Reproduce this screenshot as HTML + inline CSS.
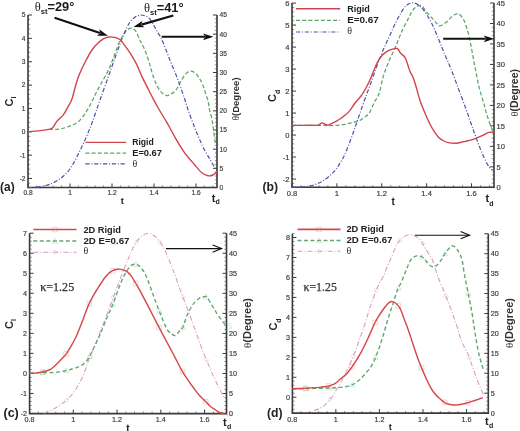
<!DOCTYPE html>
<html><head><meta charset="utf-8"><title>Figure</title>
<style>
html,body{margin:0;padding:0;background:#fff;}
body{width:520px;height:431px;overflow:hidden;}
svg{display:block;font-family:"Liberation Sans",Arial,sans-serif;}
.sf{font-family:"Liberation Serif","Times New Roman",serif;}
</style></head><body>
<svg width="520" height="431" viewBox="0 0 520 431">
<rect width="520" height="431" fill="#fff"/>
<path d="M28,178.52 h4 M28,155.16 h4 M28,131.8 h4 M28,108.44 h4 M28,85.08 h4 M28,61.72 h4 M28,38.36 h4 M28,15 h4 M217,187.5 h-4 M217,168.33 h-4 M217,149.17 h-4 M217,130 h-4 M217,110.83 h-4 M217,91.67 h-4 M217,72.5 h-4 M217,53.33 h-4 M217,34.17 h-4 M217,15 h-4 M28,187.5 v-4 M70,187.5 v-4 M112,187.5 v-4 M154,187.5 v-4 M196,187.5 v-4" stroke="#3a3a3a" stroke-width="1" fill="none"/>
<path d="M28,183.19 h2.2 M28,173.85 h2.2 M28,169.18 h2.2 M28,164.5 h2.2 M28,159.83 h2.2 M28,150.49 h2.2 M28,145.82 h2.2 M28,141.14 h2.2 M28,136.47 h2.2 M28,127.13 h2.2 M28,122.46 h2.2 M28,117.78 h2.2 M28,113.11 h2.2 M28,103.77 h2.2 M28,99.1 h2.2 M28,94.42 h2.2 M28,89.75 h2.2 M28,80.41 h2.2 M28,75.74 h2.2 M28,71.06 h2.2 M28,66.39 h2.2 M28,57.05 h2.2 M28,52.38 h2.2 M28,47.7 h2.2 M28,43.03 h2.2 M28,33.69 h2.2 M28,29.02 h2.2 M28,24.34 h2.2 M28,19.67 h2.2 M217,183.67 h-2.2 M217,179.83 h-2.2 M217,176 h-2.2 M217,172.17 h-2.2 M217,164.5 h-2.2 M217,160.67 h-2.2 M217,156.83 h-2.2 M217,153 h-2.2 M217,145.33 h-2.2 M217,141.5 h-2.2 M217,137.67 h-2.2 M217,133.83 h-2.2 M217,126.17 h-2.2 M217,122.33 h-2.2 M217,118.5 h-2.2 M217,114.67 h-2.2 M217,107 h-2.2 M217,103.17 h-2.2 M217,99.33 h-2.2 M217,95.5 h-2.2 M217,87.83 h-2.2 M217,84 h-2.2 M217,80.17 h-2.2 M217,76.33 h-2.2 M217,68.67 h-2.2 M217,64.83 h-2.2 M217,61 h-2.2 M217,57.17 h-2.2 M217,49.5 h-2.2 M217,45.67 h-2.2 M217,41.83 h-2.2 M217,38 h-2.2 M217,30.33 h-2.2 M217,26.5 h-2.2 M217,22.67 h-2.2 M217,18.83 h-2.2 M36.4,187.5 v-2.2 M44.8,187.5 v-2.2 M53.2,187.5 v-2.2 M61.6,187.5 v-2.2 M78.4,187.5 v-2.2 M86.8,187.5 v-2.2 M95.2,187.5 v-2.2 M103.6,187.5 v-2.2 M120.4,187.5 v-2.2 M128.8,187.5 v-2.2 M137.2,187.5 v-2.2 M145.6,187.5 v-2.2 M162.4,187.5 v-2.2 M170.8,187.5 v-2.2 M179.2,187.5 v-2.2 M187.6,187.5 v-2.2 M204.4,187.5 v-2.2 M212.8,187.5 v-2.2" stroke="#8a8a8a" stroke-width="0.9" fill="none"/>
<path d="M28,15 V187.5 H217 V15" stroke="#3a3a3a" stroke-width="1.6" fill="none" stroke-linejoin="miter"/>
<g font-size="6.6" fill="#3d3d3d" stroke="#3d3d3d" stroke-width="0.18">
<text x="25.5" y="180.9" text-anchor="end">-2</text>
<text x="25.5" y="157.54" text-anchor="end">-1</text>
<text x="25.5" y="134.18" text-anchor="end">0</text>
<text x="25.5" y="110.82" text-anchor="end">1</text>
<text x="25.5" y="87.46" text-anchor="end">2</text>
<text x="25.5" y="64.1" text-anchor="end">3</text>
<text x="25.5" y="40.74" text-anchor="end">4</text>
<text x="25.5" y="17.38" text-anchor="end">5</text>
<text x="219.5" y="189.88">0</text>
<text x="219.5" y="170.71">5</text>
<text x="219.5" y="151.54">10</text>
<text x="219.5" y="132.38">15</text>
<text x="219.5" y="113.21">20</text>
<text x="219.5" y="94.04">25</text>
<text x="219.5" y="74.88">30</text>
<text x="219.5" y="55.71">35</text>
<text x="219.5" y="36.54">40</text>
<text x="219.5" y="17.38">45</text>
<text x="28" y="195.3" text-anchor="middle">0.8</text>
<text x="70" y="195.3" text-anchor="middle">1</text>
<text x="112" y="195.3" text-anchor="middle">1.2</text>
<text x="154" y="195.3" text-anchor="middle">1.4</text>
<text x="196" y="195.3" text-anchor="middle">1.6</text>
</g>
<path d="M48.9,129.4 C50.63,129.37 55.82,129.75 59.3,129.2 C62.78,128.65 66.67,127.32 69.8,126.1 C72.93,124.88 75.67,123.82 78.1,121.9 C80.53,119.98 82.32,117.55 84.4,114.6 C86.48,111.65 88.67,107.8 90.6,104.2 C92.53,100.6 94.1,96.7 96,93 C97.9,89.3 100,85.67 102,82 C104,78.33 106.17,74.83 108,71 C109.83,67.17 111.33,63.25 113,59 C114.67,54.75 116.5,49.17 118,45.5 C119.5,41.83 120.48,39.58 122,37 C123.52,34.42 125.43,31.45 127.1,30 C128.77,28.55 130.52,28.05 132,28.3 C133.48,28.55 134.72,29.6 136,31.5 C137.28,33.4 138.27,36.7 139.7,39.7 C141.13,42.7 143.1,45.98 144.6,49.5 C146.1,53.02 147.48,57.02 148.7,60.8 C149.92,64.58 150.68,68.4 151.9,72.2 C153.12,76 154.52,80.35 156,83.6 C157.48,86.85 159.05,89.72 160.8,91.7 C162.55,93.68 164.8,95.12 166.5,95.5 C168.2,95.88 169.43,94.9 171,94 C172.57,93.1 174.4,91.93 175.9,90.1 C177.4,88.27 178.6,85.43 180,83 C181.4,80.57 182.97,77.33 184.3,75.5 C185.63,73.67 186.78,72.72 188,72 C189.22,71.28 190.35,70.98 191.6,71.2 C192.85,71.42 194.28,72.23 195.5,73.3 C196.72,74.37 197.73,75.82 198.9,77.6 C200.07,79.38 201.45,81.57 202.5,84 C203.55,86.43 204.28,89.37 205.2,92.2 C206.12,95.03 207.27,98.03 208,101 C208.73,103.97 208.93,106.88 209.6,110 C210.27,113.12 211.32,116.18 212,119.7 C212.68,123.22 213.15,127.22 213.7,131.1 C214.25,134.98 215.03,141.02 215.3,143" stroke="#5aa662" stroke-width="1.25" fill="none" stroke-dasharray="4,2.2" stroke-linejoin="round" stroke-opacity="1"/>
<path d="M28,187.6 C29,187.57 31.92,187.57 34,187.4 C36.08,187.23 38.02,187.07 40.5,186.6 C42.98,186.13 46.65,185.3 48.9,184.6 C51.15,183.9 52.27,183.28 54,182.4 C55.73,181.52 57.72,180.37 59.3,179.3 C60.88,178.23 62.1,177.22 63.5,176 C64.9,174.78 65.97,174.23 67.7,172 C69.43,169.77 71.82,166.25 73.9,162.6 C75.98,158.95 78.1,154.45 80.2,150.1 C82.3,145.75 84.42,141.37 86.5,136.5 C88.58,131.63 90.45,126.98 92.7,120.9 C94.95,114.82 97.12,108.15 100,100 C102.88,91.85 106.67,81.33 110,72 C113.33,62.67 117.5,50.75 120,44 C122.5,37.25 123.37,35.12 125,31.5 C126.63,27.88 128.22,24.65 129.8,22.3 C131.38,19.95 132.8,18.6 134.5,17.4 C136.2,16.2 138.3,15.37 140,15.1 C141.7,14.83 143.15,15.27 144.7,15.8 C146.25,16.33 147.92,16.95 149.3,18.3 C150.68,19.65 151.88,22.03 153,23.9 C154.12,25.77 154.7,27.23 156,29.5 C157.3,31.77 159.22,34.33 160.8,37.5 C162.38,40.67 163.88,44.5 165.5,48.5 C167.12,52.5 168.83,57.33 170.5,61.5 C172.17,65.67 173.9,69.43 175.5,73.5 C177.1,77.57 178.6,81.73 180.1,85.9 C181.6,90.07 183.1,94.32 184.5,98.5 C185.9,102.68 186.8,106.13 188.5,111 C190.2,115.87 192.95,123.2 194.7,127.7 C196.45,132.2 197.6,134.73 199,138 C200.4,141.27 201.33,143.85 203.1,147.3 C204.87,150.75 207.7,155.42 209.6,158.7 C211.5,161.98 213.27,165.12 214.5,167 C215.73,168.88 216.58,169.5 217,170" stroke="#4a54a6" stroke-width="1.2" fill="none" stroke-dasharray="4.2,1.8,1,1.8" stroke-linejoin="round" stroke-opacity="1"/>
<path d="M28,131.7 C29.73,131.57 34.92,131.28 38.4,130.9 C41.88,130.52 46.53,129.92 48.9,129.4 C51.27,128.88 51.22,129.22 52.6,127.8 C53.98,126.38 55.38,123.1 57.2,120.9 C59.02,118.7 61.75,116.87 63.5,114.6 C65.25,112.33 66.32,109.82 67.7,107.3 C69.08,104.78 70.5,103.05 71.8,99.5 C73.1,95.95 74.25,90.17 75.5,86 C76.75,81.83 77.58,78.7 79.3,74.5 C81.02,70.3 83.63,64.97 85.8,60.8 C87.97,56.63 90.3,52.43 92.3,49.5 C94.3,46.57 95.95,44.98 97.8,43.2 C99.65,41.42 101.53,39.83 103.4,38.8 C105.27,37.77 107.15,37.23 109,37 C110.85,36.77 112.65,36.93 114.5,37.4 C116.35,37.87 118.3,38.33 120.1,39.8 C121.9,41.27 123.57,43.9 125.3,46.2 C127.03,48.5 128.63,50.62 130.5,53.6 C132.37,56.58 134.55,60.18 136.5,64.1 C138.45,68.02 140.3,73.05 142.2,77.1 C144.1,81.15 146.07,84.78 147.9,88.4 C149.73,92.02 151.43,95.45 153.2,98.8 C154.97,102.15 156.87,105.63 158.5,108.5 C160.13,111.37 161.67,113.78 163,116 C164.33,118.22 165.33,119.8 166.5,121.8 C167.67,123.8 168.53,125.33 170,128 C171.47,130.67 172.88,133.68 175.3,137.8 C177.72,141.92 181.42,148.37 184.5,152.7 C187.58,157.03 190.97,160.5 193.8,163.8 C196.63,167.1 199.13,170.52 201.5,172.5 C203.87,174.48 206.1,175.28 208,175.7 C209.9,176.12 211.4,175.7 212.9,175 C214.4,174.3 216.32,172.08 217,171.5" stroke="#d0454d" stroke-width="1.4" fill="none" stroke-linejoin="round" stroke-opacity="1"/>
<path d="M85.4,142.4 H126.2" stroke="#d0454d" stroke-width="1.4"/>
<path d="M85.4,153.1 H126.2" stroke="#5aa662" stroke-width="1.3" stroke-dasharray="4,2.2"/>
<path d="M85.4,163.8 H126.2" stroke="#4a54a6" stroke-width="1.2" stroke-dasharray="4.2,1.8,1,1.8"/>
<text x="132.2" y="145.3" font-size="9" font-weight="bold" fill="#222" textLength="21.6" lengthAdjust="spacingAndGlyphs">Rigid</text>
<text x="132.2" y="155.9" font-size="9" font-weight="bold" fill="#222" textLength="29.8" lengthAdjust="spacingAndGlyphs">E=0.67</text>
<text x="132.4" y="166.8" font-size="10" fill="#333" class="sf">θ</text>
<text transform="translate(13.2,101.5) rotate(-90)" text-anchor="middle" font-size="11" font-weight="bold" fill="#222">C<tspan font-size="7" dy="3">l</tspan></text>
<text transform="translate(239.3,99) rotate(-90)" text-anchor="middle" font-size="9.5" font-weight="bold" fill="#333"><tspan class="sf" font-weight="normal">θ</tspan>(Degree)</text>
<text x="0" y="190.5" font-size="12" font-weight="bold" fill="#222">(a)</text>
<text x="120.8" y="203.5" font-size="9.5" font-weight="bold" fill="#222">t</text>
<text x="211.8" y="201.6" font-size="11" font-weight="bold" fill="#222">t<tspan font-size="7" dy="2.6">d</tspan></text>
<text x="34.8" y="10.5" font-size="12.8" fill="#1a1a1a"><tspan class="sf" font-size="12.5">θ</tspan><tspan font-size="7.5" font-weight="bold" dy="3">st</tspan><tspan font-weight="bold" dy="-3">=29°</tspan></text>
<text x="144" y="11.5" font-size="12.8" fill="#1a1a1a"><tspan class="sf" font-size="12.5">θ</tspan><tspan font-size="7.5" font-weight="bold" dy="3">st</tspan><tspan font-weight="bold" dy="-3">=41°</tspan></text>
<path d="M54.6,17.7 L99.95,33.07" stroke="#111" stroke-width="2.1"/>
<path d="M108,35.8 L96.96,35.65 L100.42,33.23 L99.15,29.21 Z" fill="#111"/>
<path d="M173.3,15.4 L141.56,24.63" stroke="#111" stroke-width="2.1"/>
<path d="M133.4,27 L142.53,20.8 L141.08,24.77 L144.43,27.33 Z" fill="#111"/>
<path d="M161.7,36.8 L205,36.8" stroke="#111" stroke-width="2.1"/>
<path d="M213.5,36.8 L203,40.2 L205.5,36.8 L203,33.4 Z" fill="#111"/>
<path d="M292,179.02 h4 M292,157.03 h4 M292,135.04 h4 M292,113.05 h4 M292,91.06 h4 M292,69.07 h4 M292,47.08 h4 M292,25.09 h4 M292,3.1 h4 M494,187.3 h-4 M494,166.82 h-4 M494,146.34 h-4 M494,125.87 h-4 M494,105.39 h-4 M494,84.91 h-4 M494,64.43 h-4 M494,43.96 h-4 M494,23.48 h-4 M494,3 h-4 M292,187.3 v-4 M336.88,187.3 v-4 M381.76,187.3 v-4 M426.64,187.3 v-4 M471.52,187.3 v-4" stroke="#3a3a3a" stroke-width="1" fill="none"/>
<path d="M292,183.42 h2.2 M292,174.62 h2.2 M292,170.22 h2.2 M292,165.83 h2.2 M292,161.43 h2.2 M292,152.63 h2.2 M292,148.23 h2.2 M292,143.84 h2.2 M292,139.44 h2.2 M292,130.64 h2.2 M292,126.24 h2.2 M292,121.85 h2.2 M292,117.45 h2.2 M292,108.65 h2.2 M292,104.25 h2.2 M292,99.86 h2.2 M292,95.46 h2.2 M292,86.66 h2.2 M292,82.26 h2.2 M292,77.87 h2.2 M292,73.47 h2.2 M292,64.67 h2.2 M292,60.27 h2.2 M292,55.88 h2.2 M292,51.48 h2.2 M292,42.68 h2.2 M292,38.28 h2.2 M292,33.89 h2.2 M292,29.49 h2.2 M292,20.69 h2.2 M292,16.29 h2.2 M292,11.9 h2.2 M292,7.5 h2.2 M494,183.2 h-2.2 M494,179.11 h-2.2 M494,175.01 h-2.2 M494,170.92 h-2.2 M494,162.73 h-2.2 M494,158.63 h-2.2 M494,154.54 h-2.2 M494,150.44 h-2.2 M494,142.25 h-2.2 M494,138.15 h-2.2 M494,134.06 h-2.2 M494,129.96 h-2.2 M494,121.77 h-2.2 M494,117.68 h-2.2 M494,113.58 h-2.2 M494,109.48 h-2.2 M494,101.29 h-2.2 M494,97.2 h-2.2 M494,93.1 h-2.2 M494,89.01 h-2.2 M494,80.82 h-2.2 M494,76.72 h-2.2 M494,72.62 h-2.2 M494,68.53 h-2.2 M494,60.34 h-2.2 M494,56.24 h-2.2 M494,52.15 h-2.2 M494,48.05 h-2.2 M494,39.86 h-2.2 M494,35.76 h-2.2 M494,31.67 h-2.2 M494,27.57 h-2.2 M494,19.38 h-2.2 M494,15.29 h-2.2 M494,11.19 h-2.2 M494,7.1 h-2.2 M300.98,187.3 v-2.2 M309.95,187.3 v-2.2 M318.93,187.3 v-2.2 M327.9,187.3 v-2.2 M345.86,187.3 v-2.2 M354.83,187.3 v-2.2 M363.81,187.3 v-2.2 M372.78,187.3 v-2.2 M390.74,187.3 v-2.2 M399.71,187.3 v-2.2 M408.69,187.3 v-2.2 M417.66,187.3 v-2.2 M435.62,187.3 v-2.2 M444.59,187.3 v-2.2 M453.57,187.3 v-2.2 M462.54,187.3 v-2.2 M480.5,187.3 v-2.2 M489.47,187.3 v-2.2" stroke="#8a8a8a" stroke-width="0.9" fill="none"/>
<path d="M292,3 V187.3 H494 V3" stroke="#3a3a3a" stroke-width="1.6" fill="none" stroke-linejoin="miter"/>
<g font-size="7.6" fill="#3d3d3d" stroke="#3d3d3d" stroke-width="0.18">
<text x="289.5" y="181.76" text-anchor="end">-2</text>
<text x="289.5" y="159.77" text-anchor="end">-1</text>
<text x="289.5" y="137.78" text-anchor="end">0</text>
<text x="289.5" y="115.79" text-anchor="end">1</text>
<text x="289.5" y="93.8" text-anchor="end">2</text>
<text x="289.5" y="71.81" text-anchor="end">3</text>
<text x="289.5" y="49.82" text-anchor="end">4</text>
<text x="289.5" y="27.83" text-anchor="end">5</text>
<text x="289.5" y="5.84" text-anchor="end">6</text>
<text x="496.5" y="190.04">0</text>
<text x="496.5" y="169.56">5</text>
<text x="496.5" y="149.08">10</text>
<text x="496.5" y="128.6">15</text>
<text x="496.5" y="108.12">20</text>
<text x="496.5" y="87.65">25</text>
<text x="496.5" y="67.17">30</text>
<text x="496.5" y="46.69">35</text>
<text x="496.5" y="26.21">40</text>
<text x="496.5" y="5.74">45</text>
<text x="292" y="196.1" text-anchor="middle">0.8</text>
<text x="336.88" y="196.1" text-anchor="middle">1</text>
<text x="381.76" y="196.1" text-anchor="middle">1.2</text>
<text x="426.64" y="196.1" text-anchor="middle">1.4</text>
<text x="471.52" y="196.1" text-anchor="middle">1.6</text>
</g>
<path d="M292,125.4 C296.35,125.4 310.78,125.4 318.1,125.4 C325.42,125.4 330.8,125.73 335.9,125.4 C341,125.07 344.87,124.17 348.7,123.4 C352.53,122.63 356.35,121.78 358.9,120.8 C361.45,119.82 362.3,118.77 364,117.5 C365.7,116.23 367.35,115.78 369.1,113.2 C370.85,110.62 372.8,105.37 374.5,102 C376.2,98.63 377.85,97.25 379.3,93 C380.75,88.75 381.58,81.83 383.2,76.5 C384.82,71.17 386.88,66.1 389,61 C391.12,55.9 393.73,50.9 395.9,45.9 C398.07,40.9 399.87,35.67 402,31 C404.13,26.33 406.95,21.32 408.7,17.9 C410.45,14.48 411.13,12.4 412.5,10.5 C413.87,8.6 415.4,7.28 416.9,6.5 C418.4,5.72 419.83,4.83 421.5,5.8 C423.17,6.77 424.97,10.07 426.9,12.3 C428.83,14.53 431.42,17.28 433.1,19.2 C434.78,21.12 435.85,22.7 437,23.8 C438.15,24.9 438.47,26.05 440,25.8 C441.53,25.55 444.15,23.9 446.2,22.3 C448.25,20.7 450.27,17.62 452.3,16.2 C454.33,14.78 456.48,13.17 458.4,13.8 C460.32,14.43 462.27,17.17 463.8,20 C465.33,22.83 466.58,27.47 467.6,30.8 C468.62,34.13 468.78,34.57 469.9,40 C471.02,45.43 472.8,55.68 474.3,63.4 C475.8,71.12 477.28,79.5 478.9,86.3 C480.52,93.1 482.68,99.48 484,104.2 C485.32,108.92 485.47,110.43 486.8,114.6 C488.13,118.77 490.8,126.38 492,129.2 C493.2,132.02 493.67,131.12 494,131.5" stroke="#5aa662" stroke-width="1.25" fill="none" stroke-dasharray="4,2.2" stroke-linejoin="round" stroke-opacity="1"/>
<path d="M292,187.2 C293.33,187.17 296.93,187.22 300,187 C303.07,186.78 307.57,186.43 310.4,185.9 C313.23,185.37 314.87,184.65 317,183.8 C319.13,182.95 321.03,182.18 323.2,180.8 C325.37,179.42 327.88,177.42 330,175.5 C332.12,173.58 334.07,171.63 335.9,169.3 C337.73,166.97 339.3,164.48 341,161.5 C342.7,158.52 343.97,156.48 346.1,151.4 C348.23,146.32 351.25,138.07 353.8,131 C356.35,123.93 358.63,116.8 361.4,109 C364.17,101.2 367.2,93.02 370.4,84.2 C373.6,75.38 377.2,64.6 380.6,56.1 C384,47.6 388.23,38.88 390.8,33.2 C393.37,27.52 394.3,25.4 396,22 C397.7,18.6 399.3,15.53 401,12.8 C402.7,10.07 404.18,7.27 406.2,5.6 C408.22,3.93 410.8,2.7 413.1,2.8 C415.4,2.9 417.82,4.37 420,6.2 C422.18,8.03 424.15,10.73 426.2,13.8 C428.25,16.87 430.38,20.75 432.3,24.6 C434.22,28.45 435.88,32.57 437.7,36.9 C439.52,41.23 441.02,45.33 443.2,50.6 C445.38,55.87 448.25,62.12 450.8,68.5 C453.35,74.88 455.95,82.1 458.5,88.9 C461.05,95.7 463.98,103.45 466.1,109.3 C468.22,115.15 469.67,119.63 471.2,124 C472.73,128.37 473.4,130.45 475.3,135.5 C477.2,140.55 480.33,149.08 482.6,154.3 C484.87,159.52 487.25,164.18 488.9,166.8 C490.55,169.42 491.9,169.47 492.5,170" stroke="#4a54a6" stroke-width="1.2" fill="none" stroke-dasharray="4.2,1.8,1,1.8" stroke-linejoin="round" stroke-opacity="1"/>
<path d="M292,125.4 C293.33,125.4 297,125.42 300,125.4 C303,125.38 306.98,125.33 310,125.3 C313.02,125.27 316.12,125.6 318.1,125.2 C320.08,124.8 320.72,123.05 321.9,122.9 C323.08,122.75 324.13,123.93 325.2,124.3 C326.27,124.67 327.25,125.22 328.3,125.1 C329.35,124.98 330.45,124.1 331.5,123.6 C332.55,123.1 333.02,122.98 334.6,122.1 C336.18,121.22 338.65,120 341,118.3 C343.35,116.6 346.37,114.45 348.7,111.9 C351.03,109.35 352.88,105.73 355,103 C357.12,100.27 359.48,98.17 361.4,95.5 C363.32,92.83 365,89.75 366.5,87 C368,84.25 369.15,81.83 370.4,79 C371.65,76.17 372.72,72.97 374,70 C375.28,67.03 376.77,63.62 378.1,61.2 C379.43,58.78 380.73,56.98 382,55.5 C383.27,54.02 384.23,53.27 385.7,52.3 C387.17,51.33 388.88,50.33 390.8,49.7 C392.72,49.07 395.57,47.9 397.2,48.5 C398.83,49.1 399.3,51.83 400.6,53.3 C401.9,54.77 403.8,55.38 405,57.3 C406.2,59.22 406.97,62.43 407.8,64.8 C408.63,67.17 409.07,69.27 410,71.5 C410.93,73.73 412.35,75.53 413.4,78.2 C414.45,80.87 415.2,83.78 416.3,87.5 C417.4,91.22 418.6,96.33 420,100.5 C421.4,104.67 422.98,108.45 424.7,112.5 C426.42,116.55 428.75,121.72 430.3,124.8 C431.85,127.88 432.58,128.87 434,131 C435.42,133.13 437.3,136.02 438.8,137.6 C440.3,139.18 441.43,139.67 443,140.5 C444.57,141.33 445.95,142.15 448.2,142.6 C450.45,143.05 454.2,143.3 456.5,143.2 C458.8,143.1 460.08,142.42 462,142 C463.92,141.58 465.78,141.27 468,140.7 C470.22,140.13 472.87,139.47 475.3,138.6 C477.73,137.73 480.33,136.53 482.6,135.5 C484.87,134.47 487,132.92 488.9,132.4 C490.8,131.88 493.15,132.4 494,132.4" stroke="#d0454d" stroke-width="1.4" fill="none" stroke-linejoin="round" stroke-opacity="1"/>
<path d="M296,8.7 H340.2" stroke="#d0454d" stroke-width="1.5"/>
<path d="M296,20.4 H340.2" stroke="#5aa662" stroke-width="1.3" stroke-dasharray="4,2.2"/>
<path d="M296,32 H340.2" stroke="#4a54a6" stroke-width="1.2" stroke-dasharray="4.2,1.8,1,1.8"/>
<text x="347.2" y="11.7" font-size="9" font-weight="bold" fill="#222" textLength="22.6" lengthAdjust="spacingAndGlyphs">Rigid</text>
<text x="347.2" y="23.3" font-size="9" font-weight="bold" fill="#222" textLength="31.7" lengthAdjust="spacingAndGlyphs">E=0.67</text>
<text x="347.3" y="34.3" font-size="10" fill="#333" class="sf">θ</text>
<text transform="translate(275.5,95.8) rotate(-90)" text-anchor="middle" font-size="11" font-weight="bold" fill="#222">C<tspan font-size="7" dy="4">d</tspan></text>
<text transform="translate(518,92.8) rotate(-90)" text-anchor="middle" font-size="10.5" font-weight="bold" fill="#333"><tspan class="sf" font-weight="normal">θ</tspan>(Degree)</text>
<text x="262.4" y="190.6" font-size="12.2" font-weight="bold" fill="#222">(b)</text>
<text x="391.4" y="205" font-size="10" font-weight="bold" fill="#222">t</text>
<text x="485.5" y="202.3" font-size="11" font-weight="bold" fill="#222">t<tspan font-size="7" dy="3.2">d</tspan></text>
<path d="M443.2,38.8 L485.7,38.8" stroke="#111" stroke-width="2.1"/>
<path d="M494.2,38.8 L483.7,42.2 L486.2,38.8 L483.7,35.4 Z" fill="#111"/>
<path d="M29.6,413.47 h4 M29.6,393.44 h4 M29.6,373.41 h4 M29.6,353.38 h4 M29.6,333.35 h4 M29.6,313.32 h4 M29.6,293.29 h4 M29.6,273.26 h4 M29.6,253.23 h4 M29.6,233.2 h4 M226.5,413.6 h-4 M226.5,393.56 h-4 M226.5,373.51 h-4 M226.5,353.47 h-4 M226.5,333.42 h-4 M226.5,313.38 h-4 M226.5,293.33 h-4 M226.5,273.29 h-4 M226.5,253.24 h-4 M226.5,233.2 h-4 M29.5,413.6 v-4 M73.28,413.6 v-4 M117.06,413.6 v-4 M160.84,413.6 v-4 M204.62,413.6 v-4" stroke="#3a3a3a" stroke-width="1" fill="none"/>
<path d="M29.6,409.46 h2.2 M29.6,405.46 h2.2 M29.6,401.45 h2.2 M29.6,397.45 h2.2 M29.6,389.43 h2.2 M29.6,385.43 h2.2 M29.6,381.42 h2.2 M29.6,377.42 h2.2 M29.6,369.4 h2.2 M29.6,365.4 h2.2 M29.6,361.39 h2.2 M29.6,357.39 h2.2 M29.6,349.37 h2.2 M29.6,345.37 h2.2 M29.6,341.36 h2.2 M29.6,337.36 h2.2 M29.6,329.34 h2.2 M29.6,325.34 h2.2 M29.6,321.33 h2.2 M29.6,317.33 h2.2 M29.6,309.31 h2.2 M29.6,305.31 h2.2 M29.6,301.3 h2.2 M29.6,297.3 h2.2 M29.6,289.28 h2.2 M29.6,285.28 h2.2 M29.6,281.27 h2.2 M29.6,277.27 h2.2 M29.6,269.25 h2.2 M29.6,265.25 h2.2 M29.6,261.24 h2.2 M29.6,257.24 h2.2 M29.6,249.22 h2.2 M29.6,245.22 h2.2 M29.6,241.21 h2.2 M29.6,237.21 h2.2 M226.5,409.59 h-2.2 M226.5,405.58 h-2.2 M226.5,401.57 h-2.2 M226.5,397.56 h-2.2 M226.5,389.55 h-2.2 M226.5,385.54 h-2.2 M226.5,381.53 h-2.2 M226.5,377.52 h-2.2 M226.5,369.5 h-2.2 M226.5,365.49 h-2.2 M226.5,361.48 h-2.2 M226.5,357.48 h-2.2 M226.5,349.46 h-2.2 M226.5,345.45 h-2.2 M226.5,341.44 h-2.2 M226.5,337.43 h-2.2 M226.5,329.41 h-2.2 M226.5,325.4 h-2.2 M226.5,321.4 h-2.2 M226.5,317.39 h-2.2 M226.5,309.37 h-2.2 M226.5,305.36 h-2.2 M226.5,301.35 h-2.2 M226.5,297.34 h-2.2 M226.5,289.32 h-2.2 M226.5,285.32 h-2.2 M226.5,281.31 h-2.2 M226.5,277.3 h-2.2 M226.5,269.28 h-2.2 M226.5,265.27 h-2.2 M226.5,261.26 h-2.2 M226.5,257.25 h-2.2 M226.5,249.24 h-2.2 M226.5,245.23 h-2.2 M226.5,241.22 h-2.2 M226.5,237.21 h-2.2 M38.26,413.6 v-2.2 M47.01,413.6 v-2.2 M55.77,413.6 v-2.2 M64.52,413.6 v-2.2 M82.04,413.6 v-2.2 M90.79,413.6 v-2.2 M99.55,413.6 v-2.2 M108.3,413.6 v-2.2 M125.82,413.6 v-2.2 M134.57,413.6 v-2.2 M143.33,413.6 v-2.2 M152.08,413.6 v-2.2 M169.6,413.6 v-2.2 M178.35,413.6 v-2.2 M187.11,413.6 v-2.2 M195.86,413.6 v-2.2 M213.38,413.6 v-2.2 M222.13,413.6 v-2.2" stroke="#8a8a8a" stroke-width="0.9" fill="none"/>
<path d="M29.6,233.2 V413.6 H226.5 V233.2" stroke="#3a3a3a" stroke-width="1.6" fill="none" stroke-linejoin="miter"/>
<g font-size="7.2" fill="#3d3d3d" stroke="#3d3d3d" stroke-width="0.18">
<text x="27.1" y="416.06" text-anchor="end">-2</text>
<text x="27.1" y="396.03" text-anchor="end">-1</text>
<text x="27.1" y="376" text-anchor="end">0</text>
<text x="27.1" y="355.97" text-anchor="end">1</text>
<text x="27.1" y="335.94" text-anchor="end">2</text>
<text x="27.1" y="315.91" text-anchor="end">3</text>
<text x="27.1" y="295.88" text-anchor="end">4</text>
<text x="27.1" y="275.85" text-anchor="end">5</text>
<text x="27.1" y="255.82" text-anchor="end">6</text>
<text x="27.1" y="235.79" text-anchor="end">7</text>
<text x="229" y="416.19">0</text>
<text x="229" y="396.15">5</text>
<text x="229" y="376.1">10</text>
<text x="229" y="356.06">15</text>
<text x="229" y="336.01">20</text>
<text x="229" y="315.97">25</text>
<text x="229" y="295.93">30</text>
<text x="229" y="275.88">35</text>
<text x="229" y="255.84">40</text>
<text x="229" y="235.79">45</text>
<text x="29.5" y="422" text-anchor="middle">0.8</text>
<text x="73.28" y="422" text-anchor="middle">1</text>
<text x="117.06" y="422" text-anchor="middle">1.2</text>
<text x="160.84" y="422" text-anchor="middle">1.4</text>
<text x="204.62" y="422" text-anchor="middle">1.6</text>
</g>
<path d="M44,413.2 C44.45,413.02 45.37,412.63 46.7,412.1 C48.03,411.57 50.22,410.88 52,410 C53.78,409.12 55.73,407.87 57.4,406.8 C59.07,405.73 60.45,404.72 62,403.6 C63.55,402.48 65.03,401.62 66.7,400.1 C68.37,398.58 70.37,396.52 72,394.5 C73.63,392.48 74.98,390.42 76.5,388 C78.02,385.58 79.62,383.05 81.1,380 C82.58,376.95 84,373.45 85.4,369.7 C86.8,365.95 87.87,361.62 89.5,357.5 C91.13,353.38 93.45,349.17 95.2,345 C96.95,340.83 98.37,336.75 100,332.5 C101.63,328.25 103.33,323.92 105,319.5 C106.67,315.08 108.33,310.5 110,306 C111.67,301.5 113.58,296.25 115,292.5 C116.42,288.75 117.3,286.67 118.5,283.5 C119.7,280.33 120.73,277.27 122.2,273.5 C123.67,269.73 125.83,264.43 127.3,260.9 C128.77,257.37 129.85,254.87 131,252.3 C132.15,249.73 133.08,247.5 134.2,245.5 C135.32,243.5 136.57,241.77 137.7,240.3 C138.83,238.83 139.87,237.68 141,236.7 C142.13,235.72 143.05,234.95 144.5,234.4 C145.95,233.85 147.87,233 149.7,233.4 C151.53,233.8 153.57,235.05 155.5,236.8 C157.43,238.55 159.8,241.78 161.3,243.9 C162.8,246.02 163.53,247.57 164.5,249.5 C165.47,251.43 165.7,252.18 167.1,255.5 C168.5,258.82 170.97,264.37 172.9,269.4 C174.83,274.43 176.57,279.9 178.7,285.7 C180.83,291.5 183.38,298.02 185.7,304.2 C188.02,310.38 190.43,316.83 192.6,322.8 C194.77,328.77 196.82,334.82 198.7,340 C200.58,345.18 202.17,349.55 203.9,353.9 C205.63,358.25 207.37,362.03 209.1,366.1 C210.83,370.17 212.55,374.53 214.3,378.3 C216.05,382.07 218.15,385.8 219.6,388.7 C221.05,391.6 222.1,394.07 223,395.7 C223.9,397.33 224.67,398.03 225,398.5" stroke="#d99cc4" stroke-width="1.1" fill="none" stroke-dasharray="5,2,1,2" stroke-linejoin="round" stroke-opacity="1"/>
<path d="M29.6,373.3 C31.33,373.18 36.18,372.72 40,372.6 C43.82,372.48 49.17,372.73 52.5,372.6 C55.83,372.47 57.57,372.17 60,371.8 C62.43,371.43 65.02,370.88 67.1,370.4 C69.18,369.92 70.75,369.43 72.5,368.9 C74.25,368.37 76.1,367.8 77.6,367.2 C79.1,366.6 80.12,366.2 81.5,365.3 C82.88,364.4 84.57,363.27 85.9,361.8 C87.23,360.33 88.32,358.55 89.5,356.5 C90.68,354.45 91.82,351.92 93,349.5 C94.18,347.08 95.18,345.08 96.6,342 C98.02,338.92 99.87,334.85 101.5,331 C103.13,327.15 105.07,322.07 106.4,318.9 C107.73,315.73 108.53,314.13 109.5,312 C110.47,309.87 111.07,308.93 112.2,306.1 C113.33,303.27 114.95,298.67 116.3,295 C117.65,291.33 119.02,287.27 120.3,284.1 C121.58,280.93 122.83,278.32 124,276 C125.17,273.68 126.13,271.95 127.3,270.2 C128.47,268.45 129.85,266.5 131,265.5 C132.15,264.5 133.2,264.37 134.2,264.2 C135.2,264.03 135.8,263.83 137,264.5 C138.2,265.17 139.83,266.18 141.4,268.2 C142.97,270.22 144.43,272.13 146.4,276.6 C148.37,281.07 150.9,288.85 153.2,295 C155.5,301.15 158.48,309.08 160.2,313.5 C161.92,317.92 162.4,318.92 163.5,321.5 C164.6,324.08 165.55,327 166.8,329 C168.05,331 169.57,332.4 171,333.5 C172.43,334.6 174.07,335.93 175.4,335.6 C176.73,335.27 177.78,332.85 179,331.5 C180.22,330.15 181.4,330.08 182.7,327.5 C184,324.92 185.5,319.17 186.8,316 C188.1,312.83 189.13,310.85 190.5,308.5 C191.87,306.15 193.58,303.57 195,301.9 C196.42,300.23 197.85,299.27 199,298.5 C200.15,297.73 200.63,297.55 201.9,297.3 C203.17,297.05 205.05,295.85 206.6,297 C208.15,298.15 209.83,302.03 211.2,304.2 C212.57,306.37 213.63,308.07 214.8,310 C215.97,311.93 216.87,313.87 218.2,315.8 C219.53,317.73 221.5,319.9 222.8,321.6 C224.1,323.3 225.47,325.27 226,326" stroke="#60a86e" stroke-width="1.4" fill="none" stroke-dasharray="4,2.6" stroke-linejoin="round" stroke-opacity="1"/>
<path d="M29.6,373.3 C30.67,373.27 34.27,373.23 36,373.1 C37.73,372.97 38.5,372.8 40,372.5 C41.5,372.2 43.27,371.83 45,371.3 C46.73,370.77 48.82,370.15 50.4,369.3 C51.98,368.45 53.1,367.42 54.5,366.2 C55.9,364.98 57.38,363.43 58.8,362 C60.22,360.57 61.62,359.17 63,357.6 C64.38,356.03 65.72,354.58 67.1,352.6 C68.48,350.62 69.9,348.13 71.3,345.7 C72.7,343.27 74.23,340.62 75.5,338 C76.77,335.38 77.8,332.67 78.9,330 C80,327.33 81.05,324.75 82.1,322 C83.15,319.25 84.15,316.27 85.2,313.5 C86.25,310.73 87.42,307.68 88.4,305.4 C89.38,303.12 90.18,301.58 91.1,299.8 C92.02,298.02 92.97,296.33 93.9,294.7 C94.83,293.07 95.77,291.5 96.7,290 C97.63,288.5 98.57,287.15 99.5,285.7 C100.43,284.25 101.37,282.7 102.3,281.3 C103.23,279.9 104.17,278.47 105.1,277.3 C106.03,276.13 106.98,275.22 107.9,274.3 C108.82,273.38 109.45,272.55 110.6,271.8 C111.75,271.05 113.37,270.25 114.8,269.8 C116.23,269.35 117.8,269.08 119.2,269.1 C120.6,269.12 121.85,269.45 123.2,269.9 C124.55,270.35 125.97,270.8 127.3,271.8 C128.63,272.8 129.87,274.12 131.2,275.9 C132.53,277.68 133.93,280.22 135.3,282.5 C136.67,284.78 138.03,287.13 139.4,289.6 C140.77,292.07 142.13,294.7 143.5,297.3 C144.87,299.9 146.23,302.55 147.6,305.2 C148.97,307.85 150.33,310.55 151.7,313.2 C153.07,315.85 154.43,318.47 155.8,321.1 C157.17,323.73 158.45,326.23 159.9,329 C161.35,331.77 162.93,334.77 164.5,337.7 C166.07,340.63 167.47,343.17 169.3,346.6 C171.13,350.03 173.47,354.43 175.5,358.3 C177.53,362.17 179.5,366.3 181.5,369.8 C183.5,373.3 185.47,376.27 187.5,379.3 C189.53,382.33 191.7,385.3 193.7,388 C195.7,390.7 197.47,393.2 199.5,395.5 C201.53,397.8 204.07,399.97 205.9,401.8 C207.73,403.63 208.88,405.13 210.5,406.5 C212.12,407.87 214.08,409 215.6,410 C217.12,411 218.07,411.9 219.6,412.5 C221.13,413.1 223.93,413.42 224.8,413.6" stroke="#d44a4c" stroke-width="1.45" fill="none" stroke-linejoin="round" stroke-opacity="1"/>
<path d="M33.3,229.5 H76.6" stroke="#d44a4c" stroke-width="1.6"/>
<path d="M33.3,241.1 H76.6" stroke="#60a86e" stroke-width="1.5" stroke-dasharray="4,2.5"/>
<path d="M33.3,252.3 H76.6" stroke="#d99cc4" stroke-width="1.1" stroke-dasharray="5,2,1,2"/>
<path d="M40.4,369.55 h4.6 v4.6 h-4.6 Z M63.7,351.64 h4.6 v4.6 h-4.6 Z M87,301.23 h4.6 v4.6 h-4.6 Z M110.3,268.55 h4.6 v4.6 h-4.6 Z M133.6,281.24 h4.6 v4.6 h-4.6 Z M156.9,325.35 h4.6 v4.6 h-4.6 Z M180.2,369.08 h4.6 v4.6 h-4.6 Z M203.5,399.4 h4.6 v4.6 h-4.6 Z M226.8,411.3 h4.6 v4.6 h-4.6 Z" stroke="#d44a4c" stroke-width="0.8" fill="none" stroke-opacity="0.3"/>
<path d="M43,369.7 L45.6,374.7 L40.4,374.7 Z M66.3,367.66 L68.9,372.66 L63.7,372.66 Z M89.6,353.4 L92.2,358.4 L87,358.4 Z M112.9,301.3 L115.5,306.3 L110.3,306.3 Z M136.2,261.51 L138.8,266.51 L133.6,266.51 Z M159.5,308.75 L162.1,313.75 L156.9,313.75 Z M182.8,324.32 L185.4,329.32 L180.2,329.32 Z M206.1,294.13 L208.7,299.13 L203.5,299.13 Z M229.4,323.1 L232,328.1 L226.8,328.1 Z" stroke="#60a86e" stroke-width="0.8" fill="none" stroke-opacity="0.3"/>
<path d="M66.7,397.8 L69,400.1 L66.7,402.4 L64.4,400.1 Z M90,354.1 L92.3,356.4 L90,358.7 L87.7,356.4 Z M113.3,294.79 L115.6,297.09 L113.3,299.39 L111,297.09 Z M136.6,239.63 L138.9,241.93 L136.6,244.23 L134.3,241.93 Z M159.9,239.89 L162.2,242.19 L159.9,244.49 L157.6,242.19 Z M183.2,295.29 L185.5,297.59 L183.2,299.89 L180.9,297.59 Z M206.5,357.7 L208.8,360 L206.5,362.3 L204.2,360 Z" stroke="#d99cc4" stroke-width="0.8" fill="none" stroke-opacity="0.45"/>
<path d="M52.7,227.2 h4.6 v4.6 h-4.6 Z" stroke="#d44a4c" stroke-width="0.8" fill="none" stroke-opacity="0.3"/>
<path d="M55,238.2 L57.6,243.2 L52.4,243.2 Z" stroke="#60a86e" stroke-width="0.8" fill="none" stroke-opacity="0.3"/>
<path d="M55,250 L57.3,252.3 L55,254.6 L52.7,252.3 Z" stroke="#d99cc4" stroke-width="0.8" fill="none" stroke-opacity="0.45"/>
<text x="83.4" y="232.6" font-size="9.4" font-weight="bold" fill="#222" textLength="37.6" lengthAdjust="spacingAndGlyphs">2D Rigid</text>
<text x="83.4" y="243.7" font-size="9.4" font-weight="bold" fill="#222" textLength="46.1" lengthAdjust="spacingAndGlyphs">2D E=0.67</text>
<text x="83.5" y="254.3" font-size="10" fill="#333" class="sf">θ</text>
<text x="40.2" y="291.2" font-size="12.5" fill="#333" class="sf" stroke="#333" stroke-width="0.25" textLength="34" lengthAdjust="spacingAndGlyphs">κ=1.25</text>
<text transform="translate(12.5,324) rotate(-90)" text-anchor="middle" font-size="11" font-weight="bold" fill="#222">C<tspan font-size="7" dy="3">l</tspan></text>
<text transform="translate(250.7,323) rotate(-90)" text-anchor="middle" font-size="11" font-weight="bold" fill="#333"><tspan class="sf" font-weight="normal">θ</tspan>(Degree)</text>
<text x="3.5" y="416.8" font-size="12.5" font-weight="bold" fill="#222">(c)</text>
<text x="126.3" y="431.5" font-size="10" font-weight="bold" fill="#222">t</text>
<text x="223" y="425.8" font-size="11" font-weight="bold" fill="#222">t<tspan font-size="7" dy="3.3" dx="0.4">d</tspan></text>
<path d="M166,248.6 L221.6,248.6" stroke="#111" stroke-width="1.1"/>
<path d="M212.6,252.2 L221.6,248.6 L212.6,245" stroke="#111" stroke-width="1.1" fill="none"/>
<path d="M292.4,397.26 h4 M292.4,377.29 h4 M292.4,357.32 h4 M292.4,337.35 h4 M292.4,317.38 h4 M292.4,297.41 h4 M292.4,277.44 h4 M292.4,257.47 h4 M292.4,237.5 h4 M488.3,413.1 h-4 M488.3,393.18 h-4 M488.3,373.26 h-4 M488.3,353.33 h-4 M488.3,333.41 h-4 M488.3,313.49 h-4 M488.3,293.57 h-4 M488.3,273.64 h-4 M488.3,253.72 h-4 M488.3,233.8 h-4 M292.3,413.1 v-4 M335.86,413.1 v-4 M379.42,413.1 v-4 M422.98,413.1 v-4 M466.54,413.1 v-4" stroke="#3a3a3a" stroke-width="1" fill="none"/>
<path d="M292.4,409.24 h2.2 M292.4,405.25 h2.2 M292.4,401.25 h2.2 M292.4,393.27 h2.2 M292.4,389.27 h2.2 M292.4,385.28 h2.2 M292.4,381.28 h2.2 M292.4,373.3 h2.2 M292.4,369.3 h2.2 M292.4,365.31 h2.2 M292.4,361.31 h2.2 M292.4,353.33 h2.2 M292.4,349.33 h2.2 M292.4,345.34 h2.2 M292.4,341.34 h2.2 M292.4,333.36 h2.2 M292.4,329.36 h2.2 M292.4,325.37 h2.2 M292.4,321.37 h2.2 M292.4,313.39 h2.2 M292.4,309.39 h2.2 M292.4,305.4 h2.2 M292.4,301.4 h2.2 M292.4,293.42 h2.2 M292.4,289.42 h2.2 M292.4,285.43 h2.2 M292.4,281.43 h2.2 M292.4,273.45 h2.2 M292.4,269.45 h2.2 M292.4,265.46 h2.2 M292.4,261.46 h2.2 M292.4,253.48 h2.2 M292.4,249.48 h2.2 M292.4,245.49 h2.2 M292.4,241.49 h2.2 M292.4,233.51 h2.2 M488.3,409.12 h-2.2 M488.3,405.13 h-2.2 M488.3,401.15 h-2.2 M488.3,397.16 h-2.2 M488.3,389.19 h-2.2 M488.3,385.21 h-2.2 M488.3,381.22 h-2.2 M488.3,377.24 h-2.2 M488.3,369.27 h-2.2 M488.3,365.29 h-2.2 M488.3,361.3 h-2.2 M488.3,357.32 h-2.2 M488.3,349.35 h-2.2 M488.3,345.36 h-2.2 M488.3,341.38 h-2.2 M488.3,337.4 h-2.2 M488.3,329.43 h-2.2 M488.3,325.44 h-2.2 M488.3,321.46 h-2.2 M488.3,317.47 h-2.2 M488.3,309.5 h-2.2 M488.3,305.52 h-2.2 M488.3,301.54 h-2.2 M488.3,297.55 h-2.2 M488.3,289.58 h-2.2 M488.3,285.6 h-2.2 M488.3,281.61 h-2.2 M488.3,277.63 h-2.2 M488.3,269.66 h-2.2 M488.3,265.68 h-2.2 M488.3,261.69 h-2.2 M488.3,257.71 h-2.2 M488.3,249.74 h-2.2 M488.3,245.75 h-2.2 M488.3,241.77 h-2.2 M488.3,237.78 h-2.2 M301.01,413.1 v-2.2 M309.72,413.1 v-2.2 M318.44,413.1 v-2.2 M327.15,413.1 v-2.2 M344.57,413.1 v-2.2 M353.28,413.1 v-2.2 M362,413.1 v-2.2 M370.71,413.1 v-2.2 M388.13,413.1 v-2.2 M396.84,413.1 v-2.2 M405.56,413.1 v-2.2 M414.27,413.1 v-2.2 M431.69,413.1 v-2.2 M440.4,413.1 v-2.2 M449.12,413.1 v-2.2 M457.83,413.1 v-2.2 M475.25,413.1 v-2.2 M483.96,413.1 v-2.2" stroke="#8a8a8a" stroke-width="0.9" fill="none"/>
<path d="M292.4,233.8 V413.1 H488.3 V233.8" stroke="#3a3a3a" stroke-width="1.6" fill="none" stroke-linejoin="miter"/>
<g font-size="7.2" fill="#3d3d3d" stroke="#3d3d3d" stroke-width="0.18">
<text x="289.9" y="399.85" text-anchor="end">0</text>
<text x="289.9" y="379.88" text-anchor="end">1</text>
<text x="289.9" y="359.91" text-anchor="end">2</text>
<text x="289.9" y="339.94" text-anchor="end">3</text>
<text x="289.9" y="319.97" text-anchor="end">4</text>
<text x="289.9" y="300" text-anchor="end">5</text>
<text x="289.9" y="280.03" text-anchor="end">6</text>
<text x="289.9" y="260.06" text-anchor="end">7</text>
<text x="289.9" y="240.09" text-anchor="end">8</text>
<text x="490.8" y="415.69">0</text>
<text x="490.8" y="395.77">5</text>
<text x="490.8" y="375.85">10</text>
<text x="490.8" y="355.93">15</text>
<text x="490.8" y="336">20</text>
<text x="490.8" y="316.08">25</text>
<text x="490.8" y="296.16">30</text>
<text x="490.8" y="276.24">35</text>
<text x="490.8" y="256.31">40</text>
<text x="490.8" y="236.39">45</text>
<text x="292.3" y="421.5" text-anchor="middle">0.8</text>
<text x="335.86" y="421.5" text-anchor="middle">1</text>
<text x="379.42" y="421.5" text-anchor="middle">1.2</text>
<text x="422.98" y="421.5" text-anchor="middle">1.4</text>
<text x="466.54" y="421.5" text-anchor="middle">1.6</text>
</g>
<path d="M314,410.7 C314.92,410.33 317.72,409.4 319.5,408.5 C321.28,407.6 323.2,406.55 324.7,405.3 C326.2,404.05 327.17,402.55 328.5,401 C329.83,399.45 331.37,397.92 332.7,396 C334.03,394.08 335.17,391.72 336.5,389.5 C337.83,387.28 339.2,385.37 340.7,382.7 C342.2,380.03 343.95,376.62 345.5,373.5 C347.05,370.38 348.42,367.58 350,364 C351.58,360.42 353.45,356 355,352 C356.55,348 357.88,344 359.3,340 C360.72,336 362.17,332 363.5,328 C364.83,324 366.32,319.17 367.3,316 C368.28,312.83 368.5,311.67 369.4,309 C370.3,306.33 371.53,303.17 372.7,300 C373.87,296.83 375.27,292.83 376.4,290 C377.53,287.17 378.33,285.33 379.5,283 C380.67,280.67 382.18,278.58 383.4,276 C384.62,273.42 385.65,270.2 386.8,267.5 C387.95,264.8 389.1,262.55 390.3,259.8 C391.5,257.05 392.83,253.67 394,251 C395.17,248.33 396.22,245.72 397.3,243.8 C398.38,241.88 399.35,240.7 400.5,239.5 C401.65,238.3 402.62,237.4 404.2,236.6 C405.78,235.8 408.07,234.7 410,234.7 C411.93,234.7 414.13,235.8 415.8,236.6 C417.47,237.4 418.83,238.33 420,239.5 C421.17,240.67 421.88,242.08 422.8,243.6 C423.72,245.12 424.47,246.78 425.5,248.6 C426.53,250.42 427.83,252.57 429,254.5 C430.17,256.43 431.03,256.55 432.5,260.2 C433.97,263.85 435.8,271 437.8,276.4 C439.8,281.8 442.8,288.42 444.5,292.6 C446.2,296.78 446.8,298.4 448,301.5 C449.2,304.6 450.67,308.37 451.7,311.2 C452.73,314.03 453.35,316.12 454.2,318.5 C455.05,320.88 455.53,321.63 456.8,325.5 C458.07,329.37 460.13,337.37 461.8,341.7 C463.47,346.03 465.35,348.25 466.8,351.5 C468.25,354.75 468.87,356.73 470.5,361.2 C472.13,365.67 474.57,373.02 476.6,378.3 C478.63,383.58 481.3,389.95 482.7,392.9 C484.1,395.85 484.62,395.48 485,396" stroke="#d99cc4" stroke-width="1.1" fill="none" stroke-dasharray="5,2,1,2" stroke-linejoin="round" stroke-opacity="1"/>
<path d="M292.4,388.8 C294.5,388.77 299.62,388.7 305,388.6 C310.38,388.5 318.87,388.4 324.7,388.2 C330.53,388 335.52,387.92 340,387.4 C344.48,386.88 348.5,386.25 351.6,385.1 C354.7,383.95 356.28,382.43 358.6,380.5 C360.92,378.57 363.18,376.22 365.5,373.5 C367.82,370.78 370.37,368.07 372.5,364.2 C374.63,360.33 376.57,354.93 378.3,350.3 C380.03,345.67 381.35,341.42 382.9,336.4 C384.45,331.38 386.02,325.35 387.6,320.2 C389.18,315.05 390.83,310.28 392.4,305.5 C393.97,300.72 395.42,295.63 397,291.5 C398.58,287.37 400.3,284.43 401.9,280.7 C403.5,276.97 405.18,272.47 406.6,269.1 C408.02,265.73 409.17,262.52 410.4,260.5 C411.63,258.48 412.83,257.82 414,257 C415.17,256.18 416.32,255.72 417.4,255.6 C418.48,255.48 419.53,255.93 420.5,256.3 C421.47,256.67 422.2,256.93 423.2,257.8 C424.2,258.67 425.53,260.33 426.5,261.5 C427.47,262.67 427.82,263.87 429,264.8 C430.18,265.73 432.35,266.98 433.6,267.1 C434.85,267.22 435.53,266.27 436.5,265.5 C437.47,264.73 438.4,263.75 439.4,262.5 C440.4,261.25 441.53,259.55 442.5,258 C443.47,256.45 444.12,254.78 445.2,253.2 C446.28,251.62 447.83,249.73 449,248.5 C450.17,247.27 451.12,245.97 452.2,245.8 C453.28,245.63 454.53,246.65 455.5,247.5 C456.47,248.35 457.17,249.57 458,250.9 C458.83,252.23 459.73,253.57 460.5,255.5 C461.27,257.43 462.02,259.75 462.6,262.5 C463.18,265.25 463.4,268.52 464,272 C464.6,275.48 465.07,277.63 466.2,283.4 C467.33,289.17 469.75,301.17 470.8,306.6 C471.85,312.03 471.93,312.53 472.5,316 C473.07,319.47 473.32,321.9 474.2,327.4 C475.08,332.9 476.58,342.95 477.8,349 C479.02,355.05 480.47,360.03 481.5,363.7 C482.53,367.37 483.58,369.78 484,371" stroke="#60a86e" stroke-width="1.4" fill="none" stroke-dasharray="4,2.6" stroke-linejoin="round" stroke-opacity="1"/>
<path d="M292.4,388.8 C294.67,388.7 301.52,388.43 306,388.2 C310.48,387.97 316.13,387.65 319.3,387.4 C322.47,387.15 323.22,386.98 325,386.7 C326.78,386.42 328.33,386.22 330,385.7 C331.67,385.18 333.33,384.67 335,383.6 C336.67,382.53 338,380.98 340,379.3 C342,377.62 344.68,376.02 347,373.5 C349.32,370.98 351.58,367.68 353.9,364.2 C356.22,360.72 358.58,356.85 360.9,352.6 C363.22,348.35 365.48,343.63 367.8,338.7 C370.12,333.77 372.87,326.95 374.8,323 C376.73,319.05 377.67,317.7 379.4,315 C381.13,312.3 383.6,308.87 385.2,306.8 C386.8,304.73 387.87,303.47 389,302.6 C390.13,301.73 390.92,301.53 392,301.6 C393.08,301.67 394.33,302.17 395.5,303 C396.67,303.83 398,305.18 399,306.6 C400,308.02 400.73,309.68 401.5,311.5 C402.27,313.32 402.47,314.43 403.6,317.5 C404.73,320.57 406.75,325.52 408.3,329.9 C409.85,334.28 411.35,339.15 412.9,343.8 C414.45,348.45 416.05,353.53 417.6,357.8 C419.15,362.07 420.65,365.7 422.2,369.4 C423.75,373.1 425.6,377.18 426.9,380 C428.2,382.82 428.9,384.3 430,386.3 C431.1,388.3 432.03,390.08 433.5,392 C434.97,393.92 436.7,395.9 438.8,397.8 C440.9,399.7 443.67,402.2 446.1,403.4 C448.53,404.6 451.33,404.77 453.4,405 C455.47,405.23 456.87,404.98 458.5,404.8 C460.13,404.62 461.62,404.25 463.2,403.9 C464.78,403.55 465.97,403.32 468,402.7 C470.03,402.08 472.95,401.02 475.4,400.2 C477.85,399.38 481.48,398.2 482.7,397.8" stroke="#d44a4c" stroke-width="1.45" fill="none" stroke-linejoin="round" stroke-opacity="1"/>
<path d="M297.5,229.4 H340.5" stroke="#d44a4c" stroke-width="1.6"/>
<path d="M297.5,240.6 H340.5" stroke="#60a86e" stroke-width="1.5" stroke-dasharray="4,2.5"/>
<path d="M297.5,251.3 H340.5" stroke="#d99cc4" stroke-width="1.1" stroke-dasharray="5,2,1,2"/>
<path d="M303.2,385.92 h4.6 v4.6 h-4.6 Z M326.4,383.66 h4.6 v4.6 h-4.6 Z M349.6,364.6 h4.6 v4.6 h-4.6 Z M372.8,320.18 h4.6 v4.6 h-4.6 Z M396,303.58 h4.6 v4.6 h-4.6 Z M419.2,365.33 h4.6 v4.6 h-4.6 Z M442.4,400.03 h4.6 v4.6 h-4.6 Z M465.6,400.42 h4.6 v4.6 h-4.6 Z" stroke="#d44a4c" stroke-width="0.8" fill="none" stroke-opacity="0.3"/>
<path d="M305.8,385.68 L308.4,390.68 L303.2,390.68 Z M329,385.08 L331.6,390.08 L326.4,390.08 Z M352.2,381.81 L354.8,386.81 L349.6,386.81 Z M375.4,354.35 L378,359.35 L372.8,359.35 Z M398.6,285.07 L401.2,290.07 L396,290.07 Z M421.8,254.12 L424.4,259.12 L419.2,259.12 Z M445,250.66 L447.6,255.66 L442.4,255.66 Z M468.2,290.59 L470.8,295.59 L465.6,295.59 Z" stroke="#60a86e" stroke-width="0.8" fill="none" stroke-opacity="0.3"/>
<path d="M330,396.91 L332.3,399.21 L330,401.51 L327.7,399.21 Z M353.2,354.02 L355.5,356.32 L353.2,358.62 L350.9,356.32 Z M376.4,287.7 L378.7,290 L376.4,292.3 L374.1,290 Z M399.6,238.41 L401.9,240.71 L399.6,243.01 L397.3,240.71 Z M422.8,241.3 L425.1,243.6 L422.8,245.9 L420.5,243.6 Z M446,294.11 L448.3,296.41 L446,298.71 L443.7,296.41 Z M469.2,355.49 L471.5,357.79 L469.2,360.09 L466.9,357.79 Z" stroke="#d99cc4" stroke-width="0.8" fill="none" stroke-opacity="0.45"/>
<path d="M316.7,227.1 h4.6 v4.6 h-4.6 Z" stroke="#d44a4c" stroke-width="0.8" fill="none" stroke-opacity="0.3"/>
<path d="M319,237.7 L321.6,242.7 L316.4,242.7 Z" stroke="#60a86e" stroke-width="0.8" fill="none" stroke-opacity="0.3"/>
<path d="M319,249 L321.3,251.3 L319,253.6 L316.7,251.3 Z" stroke="#d99cc4" stroke-width="0.8" fill="none" stroke-opacity="0.45"/>
<text x="346.4" y="232" font-size="9.4" font-weight="bold" fill="#222" textLength="37.6" lengthAdjust="spacingAndGlyphs">2D Rigid</text>
<text x="346.4" y="243.2" font-size="9.4" font-weight="bold" fill="#222" textLength="46.1" lengthAdjust="spacingAndGlyphs">2D E=0.67</text>
<text x="346.5" y="253.7" font-size="10" fill="#333" class="sf">θ</text>
<text x="303.5" y="291.3" font-size="12.5" fill="#333" class="sf" stroke="#333" stroke-width="0.25" textLength="33.3" lengthAdjust="spacingAndGlyphs">κ=1.25</text>
<text transform="translate(276.5,324.5) rotate(-90)" text-anchor="middle" font-size="11" font-weight="bold" fill="#222">C<tspan font-size="7" dy="4">d</tspan></text>
<text transform="translate(512.7,323) rotate(-90)" text-anchor="middle" font-size="11" font-weight="bold" fill="#333"><tspan class="sf" font-weight="normal">θ</tspan>(Degree)</text>
<text x="267" y="416.5" font-size="12.2" font-weight="bold" fill="#222">(d)</text>
<text x="388.8" y="430.2" font-size="9.5" font-weight="bold" fill="#222">t</text>
<text x="485" y="424.9" font-size="11" font-weight="bold" fill="#222">t<tspan font-size="7" dy="3.5" dx="0.4">d</tspan></text>
<path d="M415.1,235.2 L469.6,235.2" stroke="#111" stroke-width="1.1"/>
<path d="M460.6,238.8 L469.6,235.2 L460.6,231.6" stroke="#111" stroke-width="1.1" fill="none"/>
</svg>
</body></html>
